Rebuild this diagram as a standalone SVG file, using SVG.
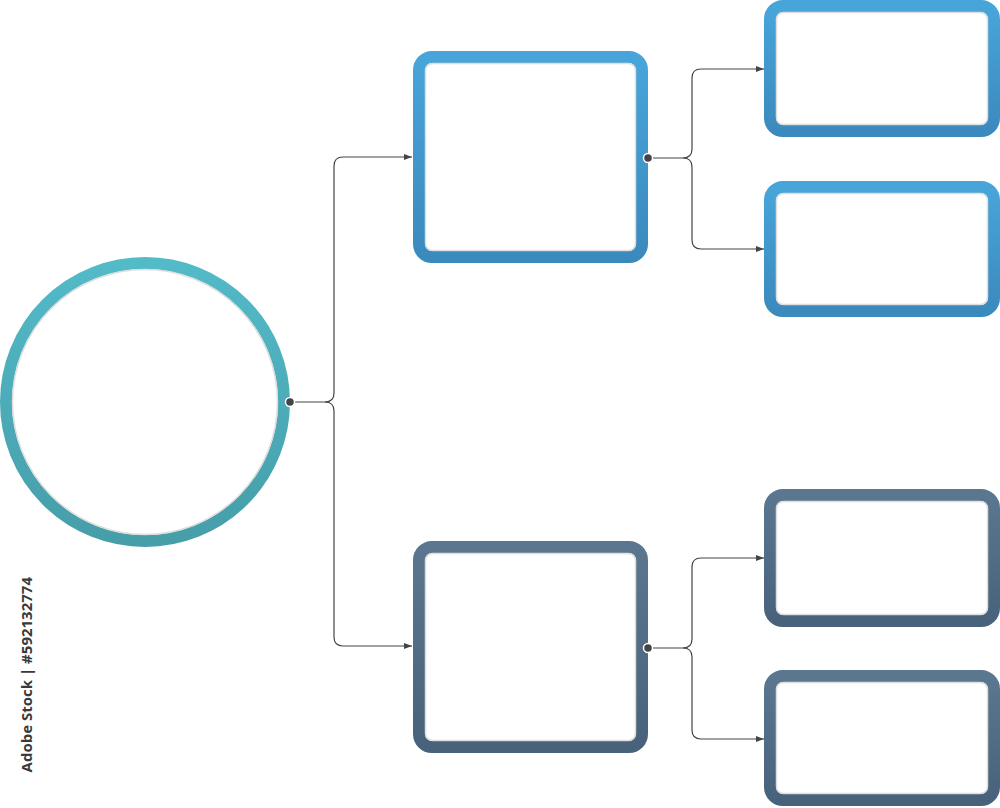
<svg xmlns="http://www.w3.org/2000/svg" width="1000" height="808" viewBox="0 0 1000 808">
<defs>
<linearGradient id="gTeal" x1="0" y1="0" x2="0" y2="1"><stop offset="0" stop-color="#53bac8"/><stop offset="1" stop-color="#469ea9"/></linearGradient>
<linearGradient id="gBlue" x1="0" y1="0" x2="0" y2="1"><stop offset="0" stop-color="#48a5da"/><stop offset="1" stop-color="#3b8abd"/></linearGradient>
<linearGradient id="gSlate" x1="0" y1="0" x2="0" y2="1"><stop offset="0" stop-color="#5b7790"/><stop offset="1" stop-color="#48627b"/></linearGradient>
<marker id="arr" viewBox="0 0 8 8" refX="8" refY="4" markerWidth="8" markerHeight="8" markerUnits="userSpaceOnUse" orient="auto"><path d="M0,1 L8,4 L0,7 Z" fill="#444"/></marker>
</defs>
<style>
.ring{fill:#fff;stroke-width:12}
.inner{fill:none;stroke:#dedede;stroke-width:1.5}
.conn{fill:none;stroke:#444;stroke-width:1.2}
.dot{fill:#444;stroke:#fff;stroke-width:1.5}
.wm{font-family:"Open Sans","Liberation Sans",sans-serif;font-size:15px;font-weight:700;fill:#3a3a3a}
</style>
<rect width="1000" height="808" fill="#fff"/>
<g id="root">
<circle cx="145" cy="402" r="139" class="ring" stroke="url(#gTeal)"/>
<circle cx="145" cy="402" r="132.5" class="inner"/>
</g>
<g id="mid-top">
<rect x="419" y="57" width="223" height="200" rx="13" class="ring" stroke="url(#gBlue)"/>
<rect x="425.5" y="63.5" width="210" height="187" rx="7" class="inner"/>
</g>
<g id="mid-bottom">
<rect x="419" y="547" width="223" height="200" rx="13" class="ring" stroke="url(#gSlate)"/>
<rect x="425.5" y="553.5" width="210" height="187" rx="7" class="inner"/>
</g>
<g id="right-1">
<rect x="770" y="6" width="224" height="125" rx="13" class="ring" stroke="url(#gBlue)"/>
<rect x="776.5" y="12.5" width="211" height="112" rx="7" class="inner"/>
</g>
<g id="right-2">
<rect x="770" y="187" width="224" height="124" rx="13" class="ring" stroke="url(#gBlue)"/>
<rect x="776.5" y="193.5" width="211" height="111" rx="7" class="inner"/>
</g>
<g id="right-3">
<rect x="770" y="495" width="224" height="126" rx="13" class="ring" stroke="url(#gSlate)"/>
<rect x="776.5" y="501.5" width="211" height="113" rx="7" class="inner"/>
</g>
<g id="right-4">
<rect x="770" y="676" width="224" height="124" rx="13" class="ring" stroke="url(#gSlate)"/>
<rect x="776.5" y="682.5" width="211" height="111" rx="7" class="inner"/>
</g>
<g id="connectors">
<path class="conn" d="M290 402 H325"/>
<path class="conn" marker-end="url(#arr)" d="M325 402 Q334 402 334 393 V166 Q334 157 343 157 H412"/>
<path class="conn" marker-end="url(#arr)" d="M325 402 Q334 402 334 411 V637 Q334 646 343 646 H412"/>
<path class="conn" d="M648 158 H683"/>
<path class="conn" marker-end="url(#arr)" d="M683 158 Q692 158 692 149 V78 Q692 69 701 69 H764"/>
<path class="conn" marker-end="url(#arr)" d="M683 158 Q692 158 692 167 V240 Q692 249 701 249 H764"/>
<path class="conn" d="M648 648 H683"/>
<path class="conn" marker-end="url(#arr)" d="M683 648 Q692 648 692 639 V567 Q692 558 701 558 H764"/>
<path class="conn" marker-end="url(#arr)" d="M683 648 Q692 648 692 657 V730 Q692 739 701 739 H764"/>
<circle cx="290" cy="402" r="4.5" class="dot"/>
<circle cx="648" cy="158" r="4.5" class="dot"/>
<circle cx="648" cy="648" r="4.5" class="dot"/>
</g>
<text class="wm" text-anchor="end" transform="translate(32,577) rotate(-90)">Adobe Stock | #592132774</text>
</svg>
